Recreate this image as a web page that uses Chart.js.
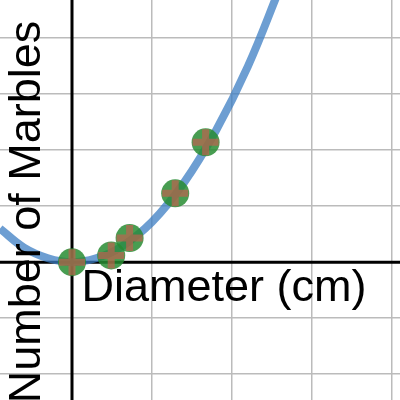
<!DOCTYPE html>
<html><head>
<script src="https://cdn.jsdelivr.net/npm/chart.js@4"></script>
<style>html,body{margin:0;padding:0;background:#fff}#wrap{width:400px;height:400px}</style>
</head><body>
<div id="wrap"><canvas id="c"></canvas></div>
<script>
const pointX = [0, 0.49, 0.72, 1.29, 1.67];
const pointY = [0, 0.12, 0.43, 1.23, 2.14];
const curveX = [-0.9, -0.6, -0.3, 0, 0.3, 0.6, 1, 1.4, 1.8, 2.2, 2.6];
const curveY = [0.6, 0.26, 0.07, 0, 0.07, 0.26, 0.72, 1.42, 2.35, 3.5, 4.9];
const gridX = [-1, 0, 1, 2, 3, 4];
const gridY = [-2, -1, 0, 1, 2, 3, 4];

const pts = pointX.map((x, i) => ({x: x, y: pointY[i]}));
const curve = curveX.map((x, i) => ({x: x, y: curveY[i]}));

const axesPlugin = {
  id: 'axesText',
  afterDatasetsDraw(chart) {
    const ctx = chart.ctx;
    ctx.save();
    ctx.fillStyle = '#000';
    ctx.font = '45px "Liberation Sans", Arial, sans-serif';
    ctx.textAlign = 'center';
    ctx.textBaseline = 'middle';
    ctx.fillText('Diameter (cm)', 224, 289);
    ctx.translate(28, 212);
    ctx.rotate(-Math.PI / 2);
    ctx.fillText('Number of Marbles', 0, 0);
    ctx.restore();
  },
  beforeDatasetsDraw(chart) {
    const ctx = chart.ctx, xs = chart.scales.x, ys = chart.scales.y;
    const x0 = xs.getPixelForValue(0), y0 = ys.getPixelForValue(0);
    ctx.save();
    ctx.strokeStyle = '#000';
    ctx.lineWidth = 3;
    ctx.beginPath();
    ctx.moveTo(x0, 0); ctx.lineTo(x0, 400);
    ctx.moveTo(0, y0); ctx.lineTo(400, y0);
    ctx.stroke();
    ctx.restore();
  }
};

new Chart(document.getElementById('c'), {
  type: 'scatter',
  data: {
    datasets: [
      {data: curve, showLine: true, tension: 0.4, borderColor: 'rgba(60,125,195,0.75)', borderWidth: 8, pointRadius: 0, order: 3},
      {data: pts, pointStyle: 'circle', pointRadius: 14, backgroundColor: 'rgba(40,140,50,0.85)', borderWidth: 0, order: 2},
      {data: pts, pointStyle: 'cross', pointRadius: 13, borderColor: 'rgba(210,90,80,0.6)', borderWidth: 7, order: 1}
    ]
  },
  options: {
    responsive: true, maintainAspectRatio: false, animation: false,
    layout: {padding: 0, autoPadding: false},
    plugins: {legend: {display: false}, tooltip: {enabled: false}},
    scales: {
      x: {type: 'linear', min: -0.9, max: 4.1,
          afterFit(s) { s.height = 0; },
          afterBuildTicks(s) { s.ticks = gridX.map(v => ({value: v})); },
          ticks: {display: false},
          grid: {color: '#bbb', lineWidth: 1.5, drawTicks: false}, border: {display: false}},
      y: {type: 'linear', min: -2.46, max: 4.68,
          afterFit(s) { s.width = 0; },
          afterBuildTicks(s) { s.ticks = gridY.map(v => ({value: v})); },
          ticks: {display: false},
          grid: {color: '#bbb', lineWidth: 1.5, drawTicks: false}, border: {display: false}}
    }
  },
  plugins: [axesPlugin]
});
</script>
</body></html>
